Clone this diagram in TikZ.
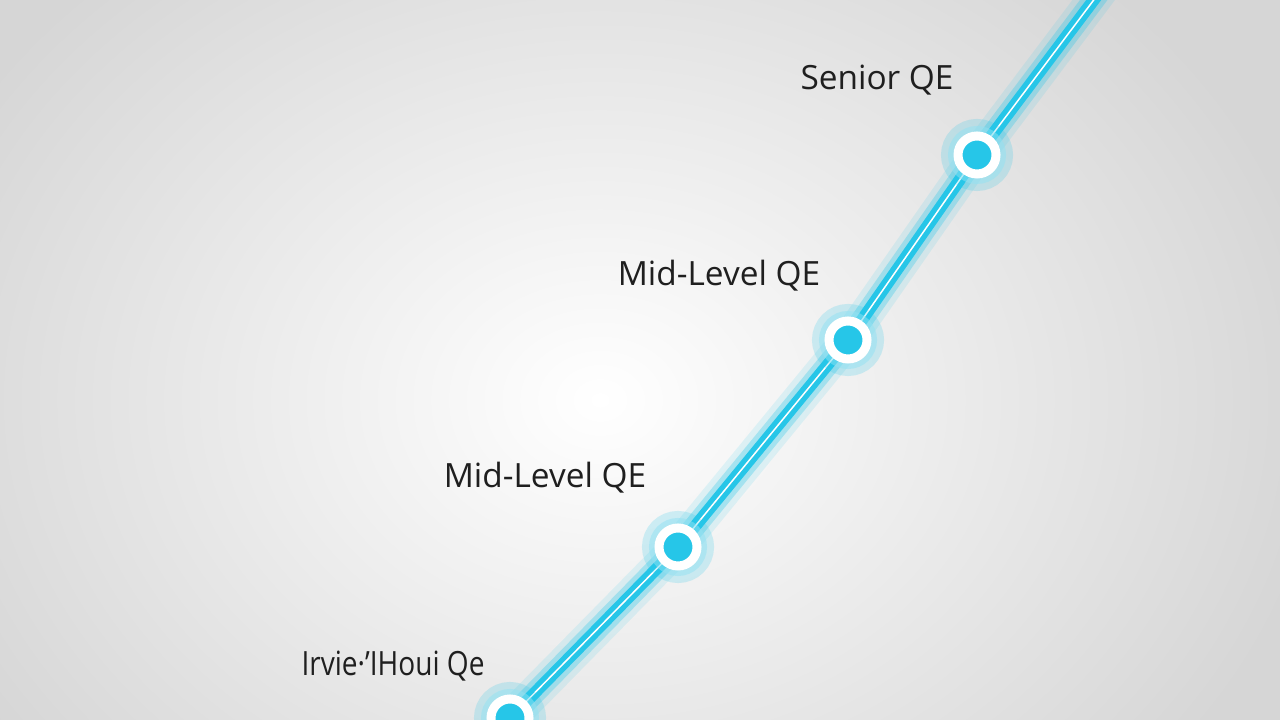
\documentclass[tikz,border=0pt]{standalone}
\usepackage{fontspec}
\setmainfont{Open Sans}
\pgfdeclarelayer{bg}
\pgfdeclarelayer{glow}
\pgfsetlayers{bg,glow,main}
\definecolor{qecyan}{RGB}{38,198,232}
\definecolor{qegray}{RGB}{214,214,214}

\begin{document}
\begin{tikzpicture}[
  stage/.style = {circle, fill=qecyan, draw=white, line width=0.09cm, minimum size=0.38cm, inner sep=0pt,
    preaction={draw=qecyan, opacity=.2, line width=0.34cm},
    preaction={draw=qecyan!50, opacity=.5, line width=0.2cm}},
  title/.style = {font=\fontsize{9.5}{11}\selectfont, text=black!88},
  track/.style = {draw=white, line width=0.015cm,
    preaction={draw=qecyan, opacity=.12, line width=0.34cm},
    preaction={draw=qecyan, opacity=.3, line width=0.22cm},
    preaction={draw=qecyan, line width=0.12cm}}]
\useasboundingbox (0,0) rectangle (12.8,7.2);
\clip (0,0) rectangle (12.8,7.2);
\begin{pgfonlayer}{bg}
\shade[inner color=white, outer color=qegray] (-1.3,-2.6) rectangle (13.3,9.0);
\end{pgfonlayer}

% career steps
\node[stage] (junior) at (5.10,0.02) {};
\node[stage] (mid1) at (6.78,1.73) {};
\node[stage] (mid2) at (8.48,3.80) {};
\node[stage] (senior) at (9.77,5.65) {};
\coordinate (low) at (4.90,-0.30);
\coordinate (high) at (11.05,7.35);

% labels
\node[title, xscale=0.84] (lbljunior) at (3.93,0.54) {Irvie·'IHoui Qe};
\node[title] (lblmid1) at (5.45,2.42) {Mid-Level QE};
\node[title] (lblmid2) at (7.19,4.44) {Mid-Level QE};
\node[title] (lblsenior) at (8.77,6.40) {Senior QE};

\begin{pgfonlayer}{glow}
\draw[track] (low) -- (junior.center) -- (mid1.center) -- (mid2.center) -- (senior.center) -- (high);
\end{pgfonlayer}
\end{tikzpicture}
\end{document}
